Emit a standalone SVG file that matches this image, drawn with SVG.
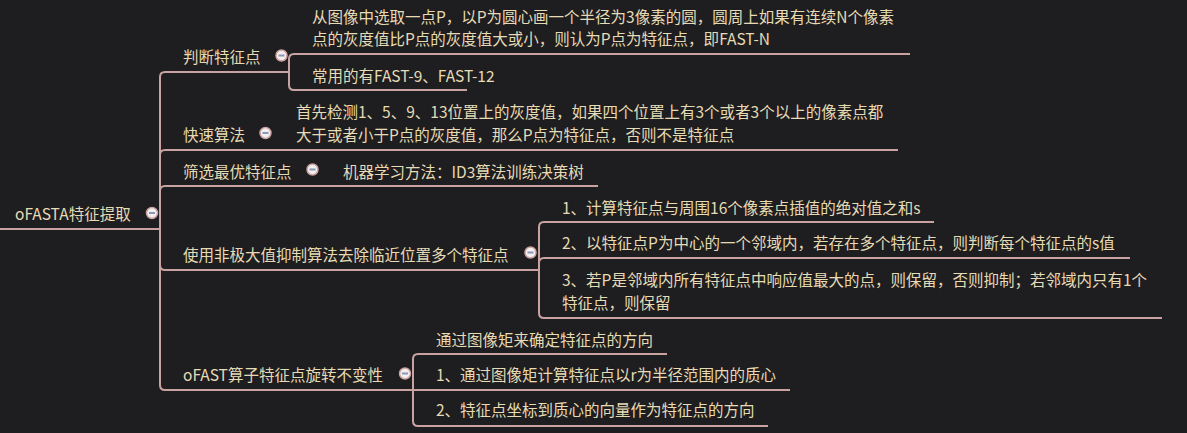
<svg xmlns="http://www.w3.org/2000/svg" width="1187" height="433" viewBox="0 0 1187 433">
<style>
  text { font-family: "Noto Sans CJK SC", "Noto Sans", sans-serif; font-size: 15.5px; fill: #e6dbb5; }
  .ln { fill: none; stroke: #c9a2a2; stroke-width: 2; }
  .btn circle { fill: #f4eeee; stroke: #c9a2a2; stroke-width: 1.5; }
  .btn line { stroke: #8a97b8; stroke-width: 2; }
</style>
<rect width="1187" height="433" fill="#1e1e20"/>
<g id="connectors">
  <path class="ln" d="M0,229 H160"/>
  <path class="ln" d="M160,229 V77 Q160,72 165,72 H289"/>
  <path class="ln" d="M289,72 V59 Q289,54 294,54 H910"/>
  <path class="ln" d="M289,72 V85 Q289,90 294,90 H467"/>
  <path class="ln" d="M160,229 V155 Q160,150 165,150 H898"/>
  <path class="ln" d="M160,229 V191 Q160,186 165,186 H598"/>
  <path class="ln" d="M160,229 V265 Q160,270 165,270 H539"/>
  <path class="ln" d="M539,270 V227 Q539,222 544,222 H934"/>
  <path class="ln" d="M539,270 V263 Q539,258 544,258 H1130"/>
  <path class="ln" d="M539,270 V313 Q539,318 544,318 H1162"/>
  <path class="ln" d="M160,229 V385 Q160,390 165,390 H413"/>
  <path class="ln" d="M413,390 V359 Q413,354 418,354 H667"/>
  <path class="ln" d="M413,390 H790"/>
  <path class="ln" d="M413,390 V421 Q413,426 418,426 H768"/>
</g>
<g id="root">
  <text x="15" y="220">oFASTA特征提取</text>
  <g class="btn"><circle cx="152" cy="213" r="5.5"/><line x1="149" y1="213" x2="155" y2="213"/></g>
</g>
<g id="n1">
  <text x="183" y="63">判断特征点</text>
  <g class="btn"><circle cx="281.5" cy="55.5" r="5.5"/><line x1="278.5" y1="55.5" x2="284.5" y2="55.5"/></g>
</g>
<g id="n1a">
  <text x="312" y="23">从图像中选取一点P，以P为圆心画一个半径为3像素的圆，圆周上如果有连续N个像素</text>
  <text x="312" y="45">点的灰度值比P点的灰度值大或小，则认为P点为特征点，即FAST-N</text>
</g>
<g id="n1b">
  <text x="312" y="82">常用的有FAST-9、FAST-12</text>
</g>
<g id="n2">
  <text x="183" y="141">快速算法</text>
  <g class="btn"><circle cx="265.5" cy="133" r="5.5"/><line x1="262.5" y1="133" x2="268.5" y2="133"/></g>
</g>
<g id="n2a">
  <text x="296" y="118">首先检测1、5、9、13位置上的灰度值，如果四个位置上有3个或者3个以上的像素点都</text>
  <text x="296" y="141">大于或者小于P点的灰度值，那么P点为特征点，否则不是特征点</text>
</g>
<g id="n3">
  <text x="183" y="178">筛选最优特征点</text>
  <g class="btn"><circle cx="312.5" cy="169.5" r="5.5"/><line x1="309.5" y1="169.5" x2="315.5" y2="169.5"/></g>
</g>
<g id="n3a">
  <text x="343" y="178">机器学习方法：ID3算法训练决策树</text>
</g>
<g id="n4">
  <text x="183" y="261">使用非极大值抑制算法去除临近位置多个特征点</text>
  <g class="btn"><circle cx="530.5" cy="252.5" r="5.5"/><line x1="527.5" y1="252.5" x2="533.5" y2="252.5"/></g>
</g>
<g id="n4a">
  <text x="562" y="214">1、计算特征点与周围16个像素点插值的绝对值之和s</text>
</g>
<g id="n4b">
  <text x="562" y="249">2、以特征点P为中心的一个邻域内，若存在多个特征点，则判断每个特征点的s值</text>
</g>
<g id="n4c">
  <text x="562" y="286">3、若P是邻域内所有特征点中响应值最大的点，则保留，否则抑制；若邻域内只有1个</text>
  <text x="562" y="309">特征点，则保留</text>
</g>
<g id="n5">
  <text x="183" y="381">oFAST算子特征点旋转不变性</text>
  <g class="btn"><circle cx="405" cy="373.5" r="5.5"/><line x1="402" y1="373.5" x2="408" y2="373.5"/></g>
</g>
<g id="n5a">
  <text x="436" y="346">通过图像矩来确定特征点的方向</text>
</g>
<g id="n5b">
  <text x="436" y="381">1、通过图像矩计算特征点以r为半径范围内的质心</text>
</g>
<g id="n5c">
  <text x="436" y="416">2、特征点坐标到质心的向量作为特征点的方向</text>
</g>
</svg>
